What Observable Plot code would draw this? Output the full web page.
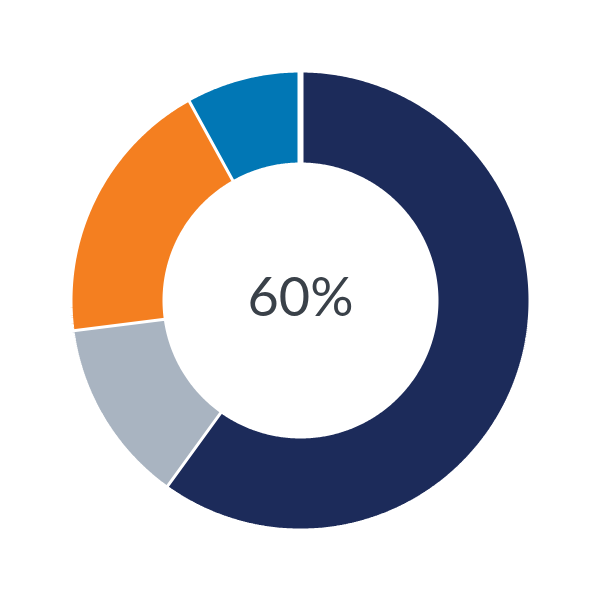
<!DOCTYPE html>
<html>
<head>
<meta charset="utf-8">
<script src="https://cdn.jsdelivr.net/npm/d3@7"></script>
<script src="https://cdn.jsdelivr.net/npm/@observablehq/plot@0.6"></script>
<style>
  html, body { margin: 0; padding: 0; background: #fff; }
  #chart { width: 600px; height: 600px; }
</style>
</head>
<body>
<div id="chart"></div>
<script>
const categories = ["A", "B", "C", "D"];
const values = [60, 13, 19, 8];
const colors = ["#1c2b5a", "#a9b4c1", "#f47f20", "#0177b5"];
const centerLabel = "60%";

// Build slice outlines from the values (angle clockwise from 12 o'clock)
const total = d3.sum(values);
const rOuter = 1;
const rInner = 135 / 231;
const points = [];
let start = 0;
values.forEach((v, i) => {
  const a0 = start / total * 2 * Math.PI;
  const a1 = (start + v) / total * 2 * Math.PI;
  const n = Math.max(4, Math.ceil((a1 - a0) / (Math.PI / 360)));
  for (let k = 0; k <= n; k++) {
    const a = a0 + (a1 - a0) * k / n;
    points.push({key: categories[i], x: rOuter * Math.sin(a), y: rOuter * Math.cos(a)});
  }
  for (let k = n; k >= 0; k--) {
    const a = a0 + (a1 - a0) * k / n;
    points.push({key: categories[i], x: rInner * Math.sin(a), y: rInner * Math.cos(a)});
  }
  start += v;
});

const chart = Plot.plot({
  width: 600,
  height: 600,
  marginLeft: 69,
  marginRight: 69,
  marginTop: 69,
  marginBottom: 69,
  x: {domain: [-1, 1], axis: null},
  y: {domain: [-1, 1], axis: null},
  color: {type: "ordinal", domain: categories, range: colors},
  style: {background: "#ffffff"},
  marks: [
    Plot.line(points, {
      x: "x", y: "y", z: "key", fill: "key",
      stroke: "white", strokeWidth: 6, strokeLinejoin: "miter", curve: "linear"
    }),
    Plot.text([centerLabel], {
      x: () => 0, y: () => 0, text: d => d,
      fontSize: 54, fontFamily: "Lato, 'Open Sans', sans-serif", fontWeight: 400,
      fill: "#3a4149", dy: -2
    })
  ]
});
document.getElementById("chart").appendChild(chart);
</script>
</body>
</html>
